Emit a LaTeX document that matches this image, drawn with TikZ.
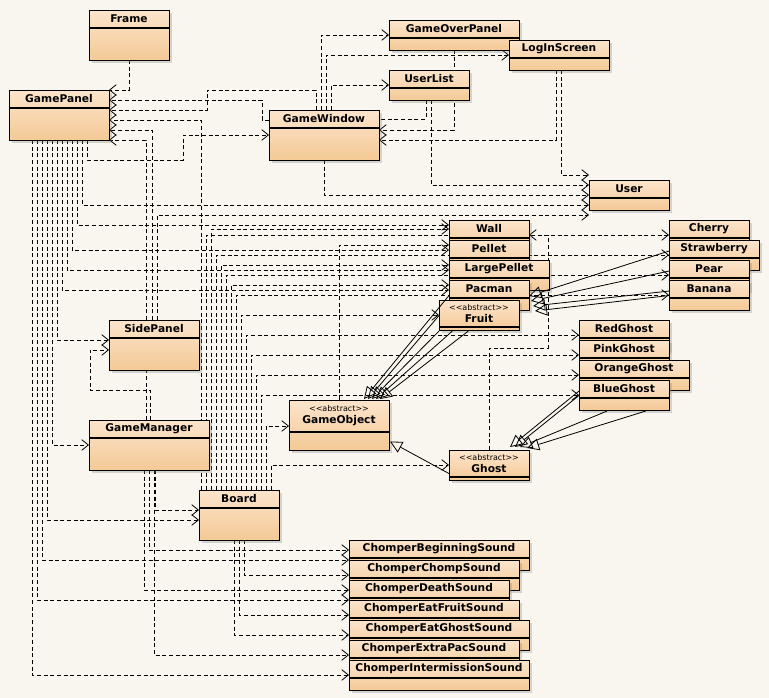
\documentclass[tikz,border=0pt]{standalone}
\usepackage{fontspec}
\newfontfamily\clsfont{DejaVu Sans}
\usetikzlibrary{arrows.meta, shadows, positioning}
\definecolor{clsTop}{HTML}{FBE4CC}
\definecolor{clsBot}{HTML}{F4C995}
\definecolor{paper}{HTML}{F8F6EE}
\tikzset{
  cls/.style={draw=black, thick, anchor=north west, inner sep=0pt, top color=clsTop, bottom color=clsBot,
    drop shadow={shadow xshift=2pt, shadow yshift=-2pt, opacity=.3}},
  title/.style={font=\clsfont\bfseries\fontsize{8}{9}\selectfont, align=center, inner sep=0pt},
  dep/.style={line width=.6pt, dash pattern=on 3pt off 2pt, -{Straight Barb[length=5pt, width=8pt]}},
  gen/.style={line width=.6pt, -{Triangle[open, length=9pt, width=9pt]}}
}
% name, x, y, width, height, header, title
\newcommand\umlclass[7]{%
  \node[cls, minimum width=#4*0.75pt, minimum height=#5*0.75pt] (#1) at (#2,#3) {};
  \draw[thick] (#2,#3+#6) -- (#2+#4,#3+#6);
  \node[title] (#1-t) at (#2+#4/2,#3+#6/2) {#7};}
\newcommand\abst{{\fontsize{6}{7}\selectfont\mdseries<<abstract>>}\\}
\begin{document}
\begin{tikzpicture}[x=0.75pt, y=-0.75pt]
\fill[paper] (0,0) rectangle (769,698);
\useasboundingbox (0,0) rectangle (769,698);

% dependencies
\draw[dep] (89+40,60) |- (109,90);
\draw[dep] (269,120) -- (262,120) |- (109,100);
\draw[dep] (316,110) |- (207,90) |- (109,110);
\draw[dep] (201,490) |- (109,120);
\draw[dep] (152,320) |- (109,130);
\draw[dep] (146,420) |- (109,140);
\draw[dep] (87,140) |- (183,160) |- (269,135);
\draw[dep] (321,110) |- (389,35);
\draw[dep] (326,110) |- (509,55);
\draw[dep] (331,110) |- (389,85);
\draw[dep] (454,50) |- (379,130);
\draw[line width=.6pt, dash pattern=on 3pt off 2pt] (426,100) |- (379,119);
\draw[dep] (556,70) |- (379,140);
\draw[dep] (561,70) |- (589,175);
\draw[dep] (431,100) |- (589,185);
\draw[dep] (324,160) |- (589,195);
\draw[dep] (82,140) |- (589,205);
\draw[dep] (157,320) |- (589,215);
\foreach \x/\y/\t in {77/225/449, 72/250/449, 67/270/449, 62/290/449, 57/340/109,
    52/445/89, 47/520/199, 42/560/349, 37/600/349, 32/675/349}
  \draw[dep] (\x,140) |- (\t,\y);
\foreach \x/\y/\t in {206/235/669, 211/229/449, 216/255/669, 221/265/449, 226/275/669,
    231/285/449, 236/295/669, 241/315/439, 246/335/579, 251/355/579, 256/375/579,
    261/395/579, 266/426/289, 271/465/449}
  \draw[dep] (\x,490) |- (\t,\y);
\draw[dep] (339,400) |- (449,245);
\draw[dep] (489,450) |- (548,348) |- (529,235);
\draw[dep] (150,420) |- (90,390) |- (109,350);
\draw[dep] (155,470) |- (199,510);
\foreach \x/\y in {149/550, 144/590, 154/655}
  \draw[dep] (\x,470) |- (349,\y);
\foreach \x/\y in {244/575, 239/615, 234/635}
  \draw[dep] (\x,540) |- (349,\y);

% classes
\umlclass{Frame}{89}{10}{80}{50}{18}{Frame}
\umlclass{GamePanel}{9}{90}{100}{50}{18}{GamePanel}
\umlclass{GameWindow}{269}{110}{110}{50}{18}{GameWindow}
\umlclass{GameOverPanel}{389}{20}{130}{30}{18}{GameOverPanel}
\umlclass{LogInScreen}{509}{40}{100}{30}{18}{LogInScreen}
\umlclass{UserList}{389}{70}{80}{30}{18}{UserList}
\umlclass{User}{589}{180}{80}{30}{18}{User}
\umlclass{Wall}{449}{220}{80}{30}{18}{Wall}
\umlclass{Pellet}{449}{240}{80}{30}{18}{Pellet}
\umlclass{LargePellet}{449}{260}{100}{30}{18}{LargePellet}
\umlclass{Pacman}{449}{280}{80}{30}{18}{Pacman}
\umlclass{Fruit}{439}{300}{80}{30}{27}{\abst Fruit}
\umlclass{Cherry}{669}{220}{80}{30}{18}{Cherry}
\umlclass{Strawberry}{669}{240}{90}{30}{18}{Strawberry}
\umlclass{Pear}{669}{260}{80}{30}{18}{Pear}
\umlclass{Banana}{669}{280}{80}{30}{18}{Banana}
\umlclass{RedGhost}{579}{320}{90}{30}{18}{RedGhost}
\umlclass{PinkGhost}{579}{340}{90}{30}{18}{PinkGhost}
\umlclass{OrangeGhost}{579}{360}{110}{30}{18}{OrangeGhost}
\umlclass{BlueGhost}{579}{380}{90}{30}{18}{BlueGhost}
\umlclass{SidePanel}{109}{320}{90}{50}{18}{SidePanel}
\umlclass{GameObject}{289}{400}{100}{50}{32}{\abst GameObject}
\umlclass{GameManager}{89}{420}{120}{50}{18}{GameManager}
\umlclass{Ghost}{449}{450}{80}{30}{27}{\abst Ghost}
\umlclass{Board}{199}{490}{80}{50}{18}{Board}
\umlclass{SBegin}{349}{540}{180}{30}{18}{ChomperBeginningSound}
\umlclass{SChomp}{349}{560}{170}{30}{18}{ChomperChompSound}
\umlclass{SDeath}{349}{580}{160}{30}{18}{ChomperDeathSound}
\umlclass{SFruit}{349}{600}{170}{30}{18}{ChomperEatFruitSound}
\umlclass{SGhost}{349}{620}{180}{30}{18}{ChomperEatGhostSound}
\umlclass{SExtra}{349}{640}{170}{30}{18}{ChomperExtraPacSound}
\umlclass{SInter}{349}{660}{180}{30}{18}{ChomperIntermissionSound}

% generalizations
\draw[gen] (Pacman.west) -- (364,399);
\draw[gen] (Fruit.west) -- (368,399);
\draw[gen] (Fruit.south west) -- (372,399);
\draw[gen] ([xshift=10]Fruit.south west) -- (376,399);
\draw[gen] ([xshift=22]Fruit.south west) -- (380,399);
\draw[gen] (Cherry.south west) -- ([shift={(9,-4)}]Fruit.north east);
\draw[gen] (Strawberry.south west) -- ([shift={(11,1)}]Fruit.north east);
\draw[gen] (Pear.south west) -- ([shift={(13,6)}]Fruit.north east);
\draw[gen] (Banana.west) -- ([shift={(15,11)}]Fruit.north east);
\draw[gen] (OrangeGhost.south west) -- ([shift={(-20,-3)}]Ghost.north east);
\draw[gen] (BlueGhost.west) -- ([shift={(-15,-3)}]Ghost.north east);
\draw[gen] ([xshift=21]BlueGhost.south west) -- ([shift={(-10,-3)}]Ghost.north east);
\draw[gen] ([xshift=50]BlueGhost.south west) -- ([shift={(-3,-2)}]Ghost.north east);
\draw[gen] ([yshift=-6]Ghost.west) -- ([yshift=-12]GameObject.east);
\end{tikzpicture}
\end{document}
